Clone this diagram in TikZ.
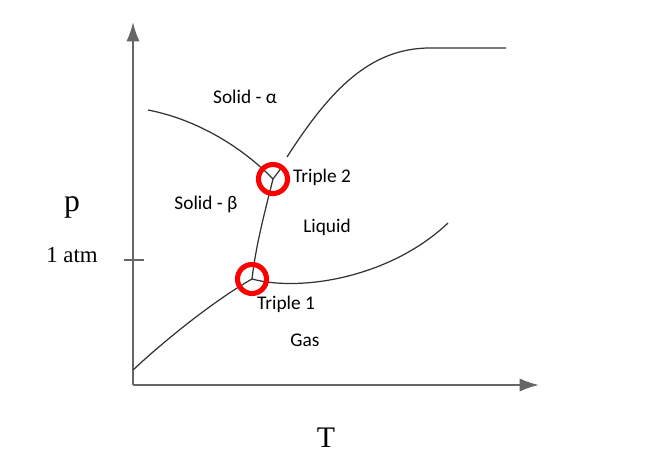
\documentclass[tikz,border=0pt]{standalone}
\usepackage{fontspec}
\setmainfont{Carlito}
\newfontfamily\timesfont{Liberation Serif}
\usetikzlibrary{arrows.meta}
\usetikzlibrary{calc}

\begin{document}
\begin{tikzpicture}[x=0.02cm,y=-0.02cm,
  axis/.style={draw=black!60,line width=1.1pt,-{Latex[length=11pt,width=7.5pt]}},
  phase/.style={draw=black!80,line width=0.7pt},
  triple/.style={circle,draw=red,line width=2.9pt,minimum size=29*0.02cm,inner sep=0pt},
  region/.style={font=\fontsize{11}{13}\selectfont}]
\useasboundingbox (0,0) rectangle (656,470);
\coordinate (origin) at (133,385);
\coordinate (ptop) at (133,22);
\coordinate (tend) at (539,385);
\coordinate (t1) at (252,279);
\coordinate (t2) at (273,179);
% axes
\draw[axis] (origin) -- (ptop);
\draw[axis] (origin) -- (tend);
\draw[black!60,line width=0.8pt] (124,260) -- (144,260);
\node[font=\timesfont\fontsize{18}{20}\selectfont] (plabel) at (72,207) {p};
\node[font=\timesfont\fontsize{13}{15}\selectfont] (atm) at (72,255) {1 atm};
\node[font=\timesfont\fontsize{17}{19}\selectfont] (tlabel) at (326,438) {T};
% phase boundaries
\draw[phase] (148,110) .. controls (200,120) and (245,150) .. (t2);
\draw[phase] (t2) -- (282,167);
\draw[phase] (287,157) .. controls (330,90) and (370,48) .. (430,48) -- (506,48);
\draw[phase] (t2) .. controls (264,215) and (256,245) .. (t1);
\draw[phase] (133,370) .. controls (165,340) and (215,300) .. (t1);
\draw[phase] (t1) .. controls (300,292) and (390,278) .. (448,223);
% triple points
\node[triple] (c1) at (t1) {};
\node[triple] (c2) at (t2) {};
% labels
\node[region] (alpha) at (245,97) {Solid - α};
\node[region] (beta) at (206,204) {Solid - β};
\node[region,anchor=west] (tp2) at (287,177) {Triple 2};
\node[region] (liquid) at (327,227) {Liquid};
\node[region,anchor=west] (tp1) at (251,304) {Triple 1};
\node[region] (gas) at (305,340) {Gas};
\end{tikzpicture}
\end{document}
